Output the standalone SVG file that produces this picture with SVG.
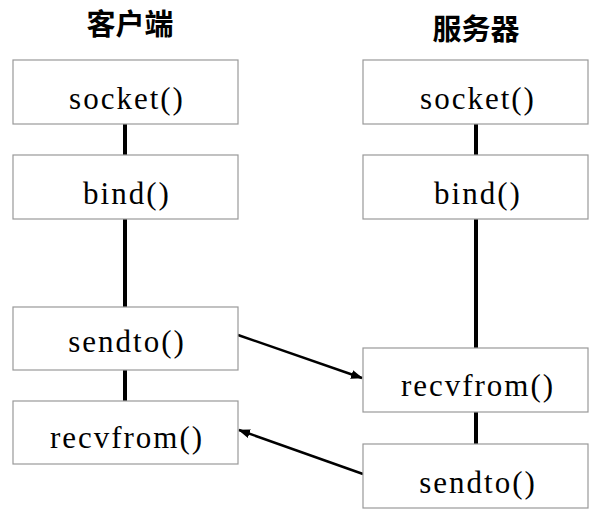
<svg xmlns="http://www.w3.org/2000/svg" width="613" height="519" viewBox="0 0 613 519">
<style>
.b rect{fill:#fff;stroke:#999;stroke-width:1.2}
.b text{font-family:"Liberation Serif",serif;font-size:31px;letter-spacing:2px;text-anchor:middle;fill:#000}
.t{font-family:"Noto Sans CJK SC",sans-serif;font-size:29px;font-weight:bold;text-anchor:middle}
</style>
<defs><marker id="a" markerWidth="12" markerHeight="9" refX="11" refY="4.5" orient="auto" markerUnits="userSpaceOnUse"><path d="M0,0L12,4.5L0,9z"/></marker></defs>
<rect width="613" height="519" fill="#fff"/>
<text class="t" x="130" y="35">客户端</text>
<text class="t" x="476" y="40">服务器</text>
<g id="connectors" stroke="#000">
<line x1="125" y1="124" x2="125" y2="401" stroke-width="4"/>
<line x1="476" y1="124" x2="476" y2="444" stroke-width="4"/>
<line x1="238" y1="335" x2="362" y2="378" stroke-width="2.5" marker-end="url(#a)"/>
<line x1="363" y1="474" x2="239" y2="430" stroke-width="2.5" marker-end="url(#a)"/>
</g>
<g id="c1" class="b"><rect x="13" y="60" width="225" height="64"/><text x="127" y="109">socket()</text></g>
<g id="c2" class="b"><rect x="13" y="155" width="225" height="64"/><text x="127" y="204">bind()</text></g>
<g id="c3" class="b"><rect x="13" y="307" width="225" height="63"/><text x="127" y="352">sendto()</text></g>
<g id="c4" class="b"><rect x="13" y="401" width="225" height="63"/><text x="127" y="448">recvfrom()</text></g>
<g id="s1" class="b"><rect x="363" y="60" width="225" height="64"/><text x="478" y="109">socket()</text></g>
<g id="s2" class="b"><rect x="363" y="155" width="225" height="64"/><text x="478" y="204">bind()</text></g>
<g id="s3" class="b"><rect x="363" y="348" width="225" height="64"/><text x="478" y="396">recvfrom()</text></g>
<g id="s4" class="b"><rect x="363" y="444" width="225" height="64"/><text x="478" y="493">sendto()</text></g>
</svg>
